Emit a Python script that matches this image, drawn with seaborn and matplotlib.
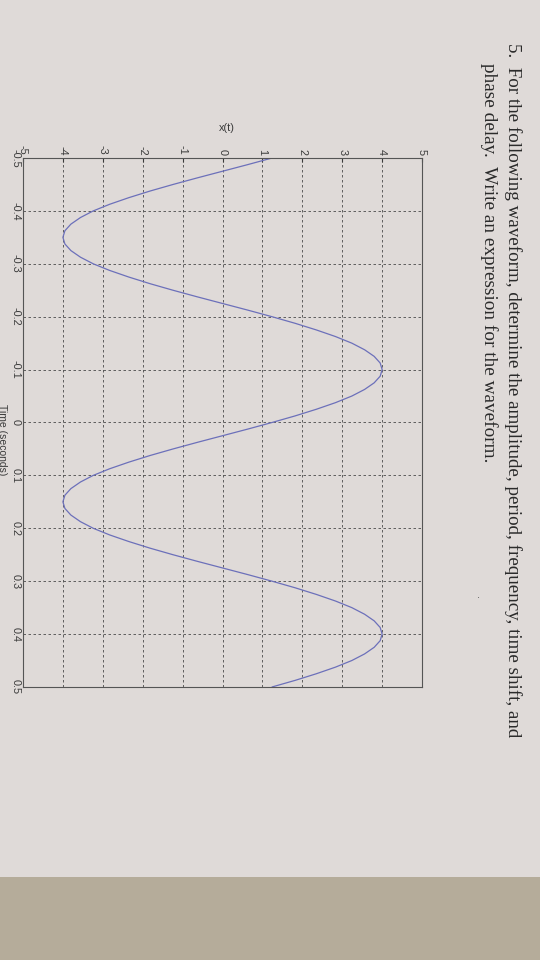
import matplotlib
matplotlib.use("Agg")
import matplotlib.pyplot as plt
from matplotlib.patches import Rectangle
import seaborn as sns
import pandas as pd

time_s = [-0.5 + 0.0125 * k for k in range(81)]
x_t = [1.24, 0.63, 0.00, -0.63, -1.24, -1.82, -2.35, -2.83, -3.24, -3.56, -3.80, -3.95, -4.00,
       -3.95, -3.80, -3.56, -3.24, -2.83, -2.35, -1.82, -1.24, -0.63, 0.00,
       0.63, 1.24, 1.82, 2.35, 2.83, 3.24, 3.56, 3.80, 3.95, 4.00,
       3.95, 3.80, 3.56, 3.24, 2.83, 2.35, 1.82, 1.24, 0.63, 0.00,
       -0.63, -1.24, -1.82, -2.35, -2.83, -3.24, -3.56, -3.80, -3.95, -4.00,
       -3.95, -3.80, -3.56, -3.24, -2.83, -2.35, -1.82, -1.24, -0.63, 0.00,
       0.63, 1.24, 1.82, 2.35, 2.83, 3.24, 3.56, 3.80, 3.95, 4.00,
       3.95, 3.80, 3.56, 3.24, 2.83, 2.35, 1.82, 1.24]

value_ticks = [-5, -4, -3, -2, -1, 0, 1, 2, 3, 4, 5]
time_ticks = [-0.5, -0.4, -0.3, -0.2, -0.1, 0, 0.1, 0.2, 0.3, 0.4, 0.5]
time_labels = ["-0.5", "-0.4", "-0.3", "-0.2", "-0.1", "0", "0.1", "0.2", "0.3", "0.4", "0.5"]

question_1 = "5.  For the following waveform, determine the amplitude, period, frequency, time shift, and"
question_2 = "phase delay.  Write an expression for the waveform."

paper = "#dfdad8"
ink = "#3a3a3a"

sns.set_style("white")
plt.rcParams["font.family"] = ["Liberation Sans", "DejaVu Sans"]

df = pd.DataFrame({"t": time_s, "x": x_t})

fig = plt.figure(figsize=(5.4, 9.6), dpi=100)
fig.patch.set_facecolor(paper)

# carpet showing under the page
fig.patches.append(Rectangle((0, 0), 1, 0.0865, transform=fig.transFigure,
                             facecolor="#b5ac9a", edgecolor="none", zorder=0))

ax = fig.add_axes([0.0426, 0.2844, 0.739, 0.551])
ax.set_facecolor(paper)

# chart is photographed on its side: time runs down, x(t) runs across
sns.lineplot(data=df, x="x", y="t", sort=False, estimator=None,
             color="#6c70ba", linewidth=0.9, ax=ax)

ax.set_xlim(-5, 5)
ax.set_ylim(0.5, -0.5)

ax.xaxis.tick_top()
ax.set_xticks(value_ticks)
ax.set_xticklabels([str(v) for v in value_ticks], rotation=-90,
                   fontsize=7.8, color=ink, ha="center", va="bottom")
ax.set_yticks(time_ticks)
ax.set_yticklabels(time_labels, rotation=-90, fontsize=7.8, color=ink,
                   ha="right", va="center")
ax.tick_params(axis="both", direction="in", length=3, pad=2, color=ink)

ax.grid(True, linestyle=(0, (3, 3)), color="#4a4a4a", linewidth=0.6)
for s in ax.spines.values():
    s.set_color("#555555")
    s.set_linewidth(0.8)
ax.set_xlabel("")
ax.set_ylabel("")

# axis titles as they sit on the rotated page
fig.text(227 / 540, 1 - 128 / 960, "x(t)", fontsize=7.8, color=ink,
         ha="center", va="center")
fig.text(2 / 540, 1 - 440 / 960, "Time (seconds)", fontsize=7.5, color=ink,
         rotation=-90, ha="center", va="center")

# question text, also sideways
fig.text(513 / 540, 1 - 43 / 960, question_1, rotation=-90, ha="center", va="top",
         family="Liberation Serif", fontsize=13.7, color="#2a2a2a")
fig.text(489 / 540, 1 - 63 / 960, question_2, rotation=-90, ha="center", va="top",
         family="Liberation Serif", fontsize=13.9, color="#2a2a2a")
fig.text(478 / 540, 1 - 595 / 960, ".", fontsize=8, color="#555555",
         ha="center", va="center")

fig.savefig("out.png", dpi=100, facecolor=fig.get_facecolor())
